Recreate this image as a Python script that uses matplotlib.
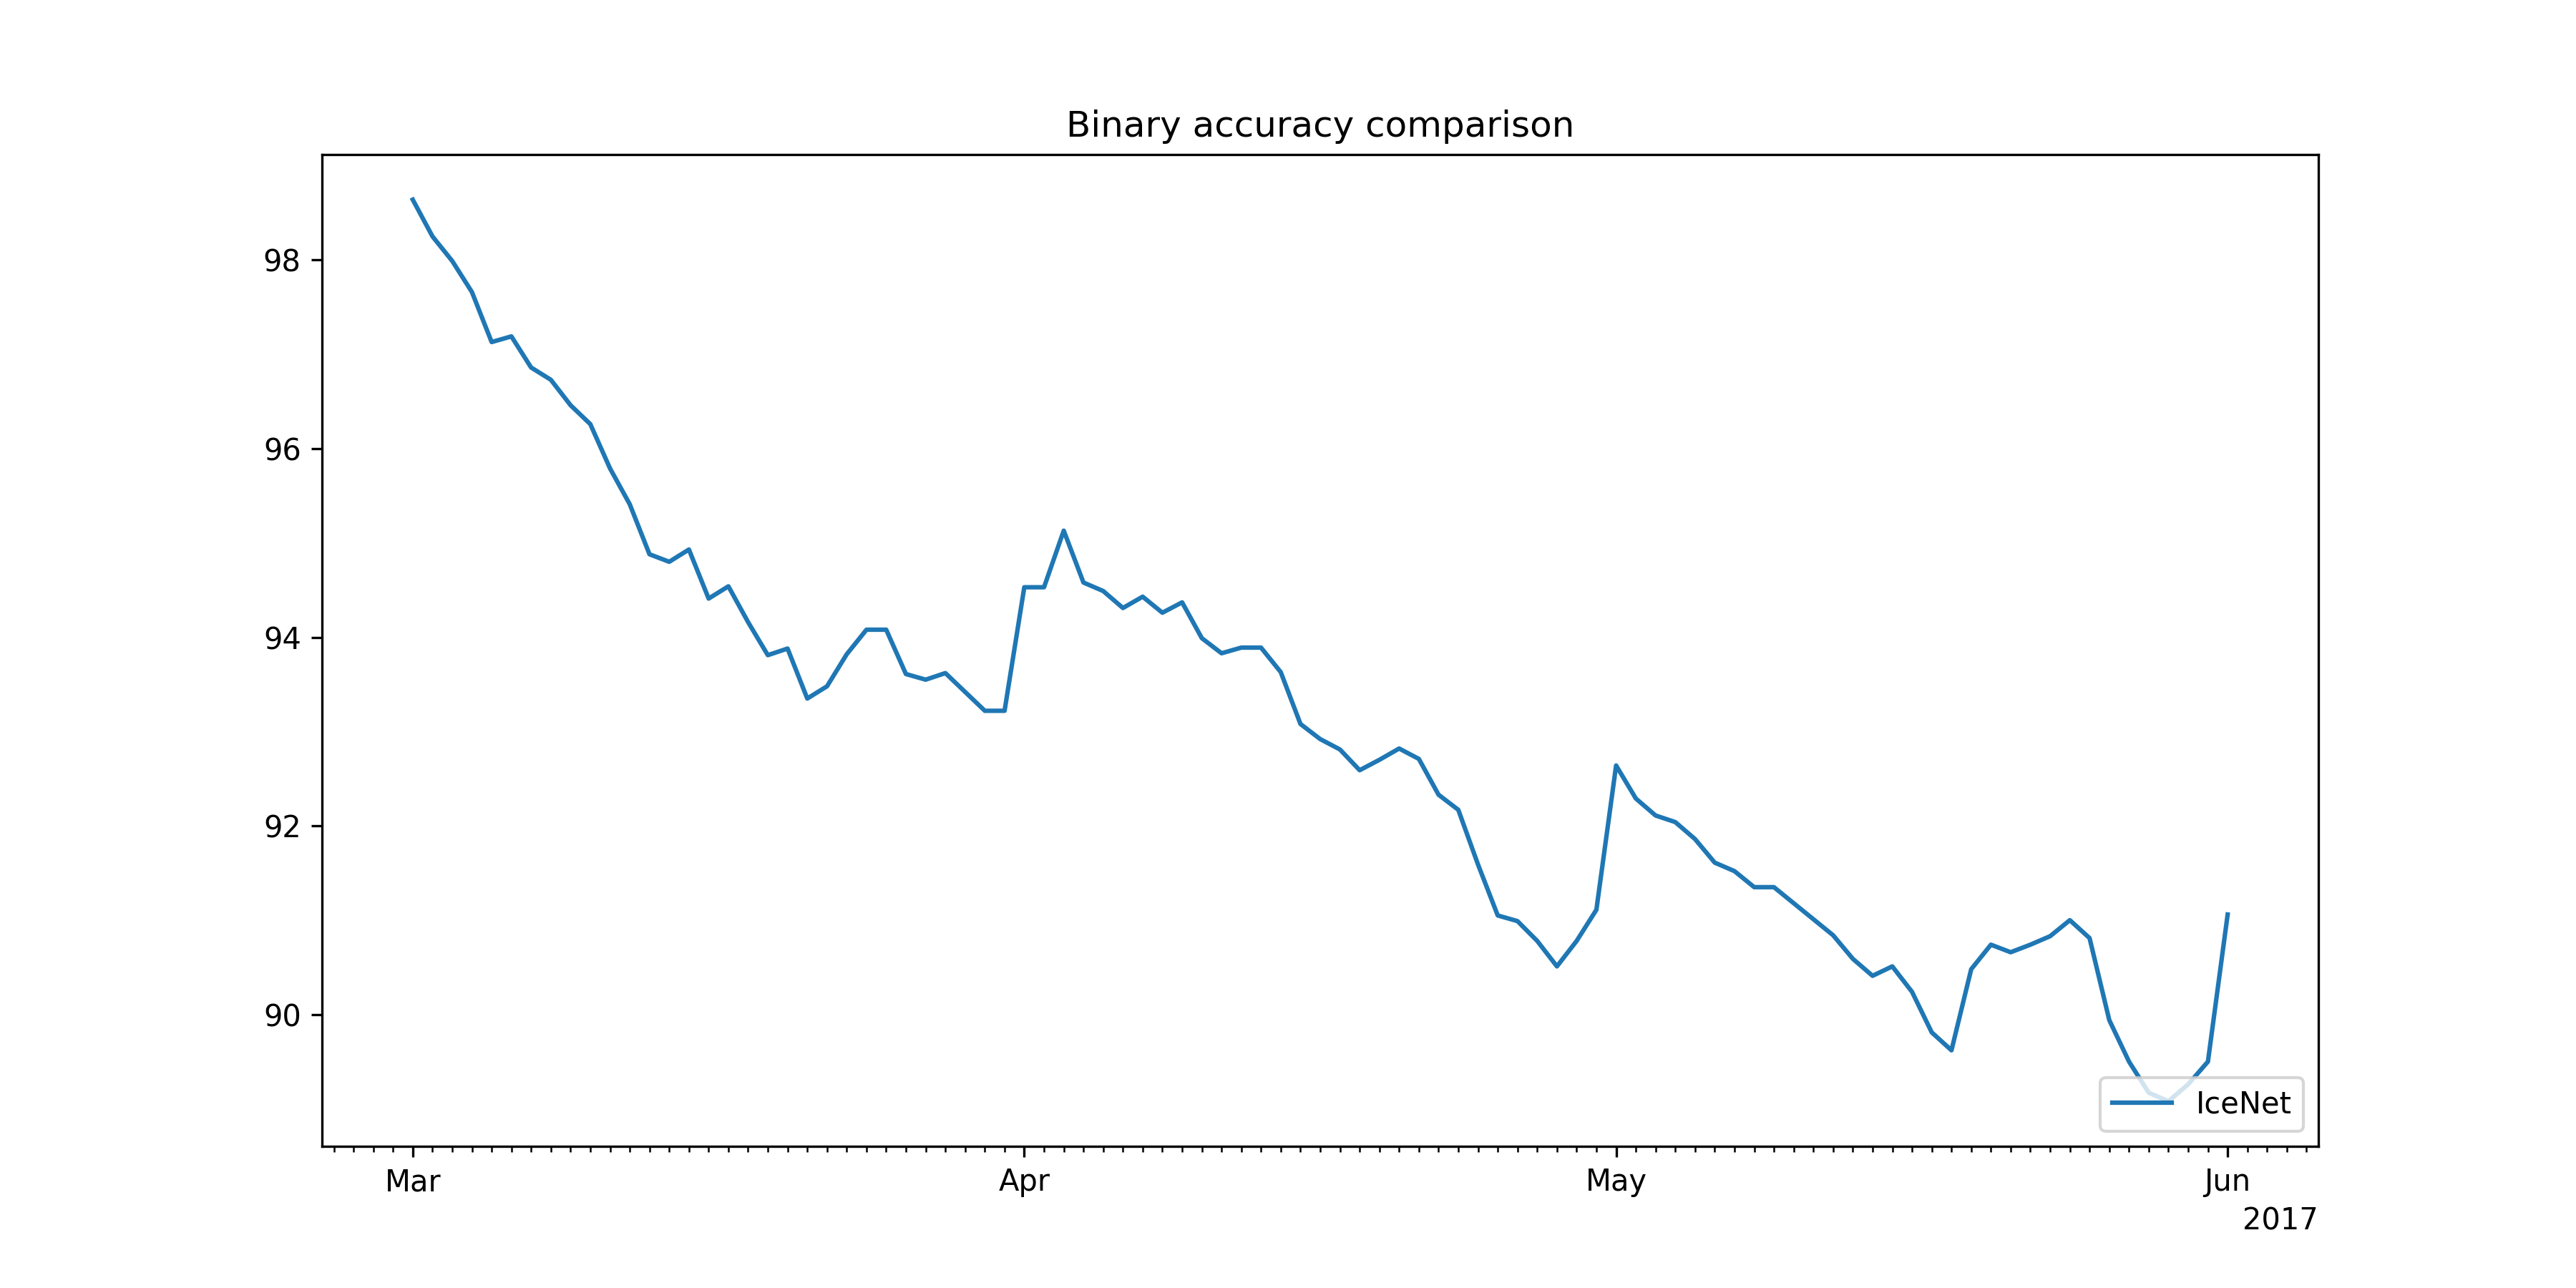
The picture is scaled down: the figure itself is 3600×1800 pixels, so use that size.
import numpy as np
import pandas as pd
import matplotlib
matplotlib.use("Agg")
import matplotlib.pyplot as plt
import matplotlib.dates as mdates

# daily binary accuracy (%), 1 Mar - 1 Jun 2017
dates = pd.date_range("2017-03-01", "2017-06-01", freq="D")

acc_march = [98.64, 98.25, 97.99, 97.66, 97.13, 97.19, 96.86, 96.73, 96.46, 96.26,
             95.79, 95.41, 94.88, 94.80, 94.93, 94.41, 94.54, 94.16, 93.81, 93.88,
             93.35, 93.48, 93.82, 94.08, 94.08, 93.61, 93.55, 93.62, 93.42, 93.22,
             93.22]
acc_april = [94.53, 94.53, 95.13, 94.58, 94.49, 94.31, 94.43, 94.26, 94.37, 93.99,
             93.83, 93.89, 93.89, 93.63, 93.08, 92.92, 92.81, 92.59, 92.70, 92.82,
             92.71, 92.33, 92.17, 91.59, 91.05, 90.99, 90.78, 90.51, 90.78, 91.11]
acc_may = [92.64, 92.29, 92.11, 92.04, 91.86, 91.61, 91.52, 91.35, 91.35, 91.18,
           91.01, 90.84, 90.59, 90.41, 90.51, 90.24, 89.81, 89.62, 90.48, 90.74,
           90.66, 90.74, 90.83, 91.00, 90.81, 89.94, 89.50, 89.17, 89.08, 89.26,
           89.50]
acc_june = [91.06]

accuracy = acc_march + acc_april + acc_may + acc_june

fig, ax = plt.subplots(figsize=(12, 6), dpi=300)
ax.plot(dates, accuracy, label="IceNet")

locator = mdates.MonthLocator()
ax.xaxis.set_major_locator(locator)
ax.xaxis.set_major_formatter(mdates.ConciseDateFormatter(locator))
ax.xaxis.set_minor_locator(mdates.DayLocator())

ax.set_title("Binary accuracy comparison")
ax.legend(loc="lower right")

fig.savefig("out.png")
